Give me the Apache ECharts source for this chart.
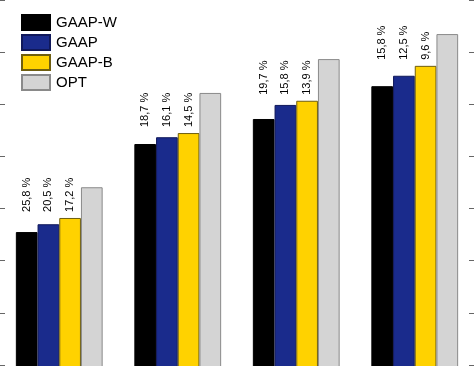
<!DOCTYPE html>
<html>
<head>
<meta charset="utf-8">
<script src="https://cdn.jsdelivr.net/npm/echarts@6/dist/echarts.min.js"></script>
<style>html,body{margin:0;padding:0;background:#fff;}#c{width:474px;height:366px;}</style>
</head>
<body>
<div id="c"></div>
<script>
const categories = ['1', '2', '3', '4'];
const seriesNames = ['GAAP-W', 'GAAP', 'GAAP-B', 'OPT'];
const gaapW = [3.55, 5.24, 5.72, 6.35];
const gaap = [3.70, 5.37, 5.99, 6.55];
const gaapB = [3.82, 5.45, 6.07, 6.74];
const opt = [4.41, 6.22, 6.87, 7.35];
const gapW = ['25,8 %', '18,7 %', '19,7 %', '15,8 %'];
const gapG = ['20,5 %', '16,1 %', '15,8 %', '12,5 %'];
const gapB = ['17,2 %', '14,5 %', '13,9 %', '9,6 %'];

const colors = ['#000000', '#1a2b8c', '#ffd200', '#d4d4d4'];
const borders = ['#000000', '#10185a', '#6e5e10', '#8a8a8a'];
const FONT = 'Liberation Sans, Arial, Helvetica, sans-serif';

const labelTop = categories.map((_, i) => Math.max(gaapW[i], gaap[i], gaapB[i]));
const values = [gaapW, gaap, gaapB, opt];
const texts = [gapW, gapG, gapB];

const series = [];
values.forEach((vals, k) => {
  series.push({
    name: seriesNames[k], type: 'bar', stack: 's' + k,
    barWidth: 21.7, barGap: '0%',
    data: vals,
    itemStyle: { color: colors[k], borderColor: borders[k], borderWidth: 1 }
  });
  if (k < 3) {
    series.push({
      name: 'lab' + k, type: 'bar', stack: 's' + k,
      barWidth: 21.7, barGap: '0%', silent: true,
      data: vals.map((v, i) => labelTop[i] - v),
      itemStyle: { color: 'rgba(0,0,0,0)', borderWidth: 0 },
      label: {
        show: true, position: 'top', rotate: 90, align: 'left', verticalAlign: 'middle',
        distance: 6, color: '#000', fontSize: 11, fontFamily: FONT,
        formatter: p => texts[k][p.dataIndex]
      }
    });
  }
});

const tickStyle = { color: '#666', width: 1 };
const chart = echarts.init(document.getElementById('c'));
chart.setOption({
  animation: false,
  backgroundColor: '#fff',
  grid: { left: 0, right: 0, top: -5, height: 422, containLabel: false, outerBoundsMode: 'none' },
  legend: {
    data: seriesNames, orient: 'vertical', left: 21, top: 14, padding: 0,
    icon: 'rect', itemWidth: 28, itemHeight: 15, itemGap: 3,
    textStyle: { fontSize: 15, fontFamily: FONT, color: '#000', lineHeight: 15, padding: [0, 0, 0, 1] }
  },
  xAxis: {
    type: 'category', data: categories, position: 'top',
    axisLine: { show: false },
    axisTick: { show: true, inside: true, length: 4, alignWithLabel: true, lineStyle: tickStyle },
    axisLabel: { show: false }, splitLine: { show: false }
  },
  yAxis: [
    { type: 'value', min: 0, max: 8.1, interval: 1, position: 'left',
      axisLine: { show: false }, axisLabel: { show: false }, splitLine: { show: false },
      axisTick: { show: true, inside: true, length: 5, lineStyle: tickStyle } },
    { type: 'value', min: 0, max: 8.1, interval: 1, position: 'right',
      axisLine: { show: false }, axisLabel: { show: false }, splitLine: { show: false },
      axisTick: { show: true, inside: true, length: 5, lineStyle: tickStyle } }
  ],
  series: series
});
</script>
</body>
</html>
